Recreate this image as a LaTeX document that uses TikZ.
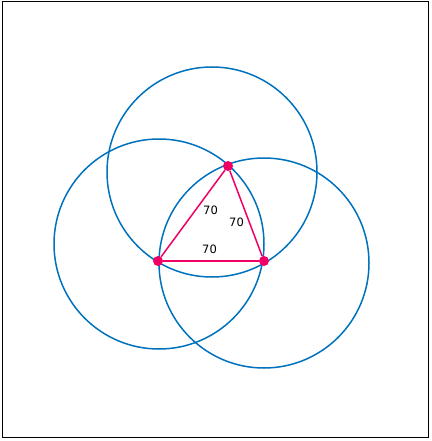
\documentclass[tikz,border=0pt]{standalone}
\usepackage{fontspec}
\setsansfont{DejaVu Sans}
\definecolor{cblue}{RGB}{0,114,189}
\definecolor{cpink}{RGB}{240,0,100}
\tikzset{
  ring/.style={draw=cblue, line width=1.5pt},
  vtx/.style={circle, fill=cpink, inner sep=0pt, minimum size=10pt},
  side/.style={draw=cpink, line width=1.5pt},
  lbl/.style={font=\sffamily\fontsize{11.5}{13}\selectfont, inner sep=0pt}
}
\begin{document}
\begin{tikzpicture}[x=1pt,y=-1pt]
\useasboundingbox (0,0) rectangle (431,441);
\draw[black, line width=1pt] (2.5,1.5) rectangle (428,437.5);
\draw[ring] (159,244) circle (105);
\draw[ring] (212,172) circle (105);
\draw[ring] (264,263) circle (105);
\node[vtx] (A) at (158,261) {};
\node[vtx] (B) at (264,261) {};
\node[vtx] (C) at (228,166) {};
\draw[side] (A) -- (B);
\draw[side] (B) -- (C);
\draw[side] (C) -- (A);
\node[lbl] (l1) at (210.5,210.5) {70};
\node[lbl] (l2) at (236.5,222) {70};
\node[lbl] (l3) at (209.5,249.5) {70};
\end{tikzpicture}
\end{document}
